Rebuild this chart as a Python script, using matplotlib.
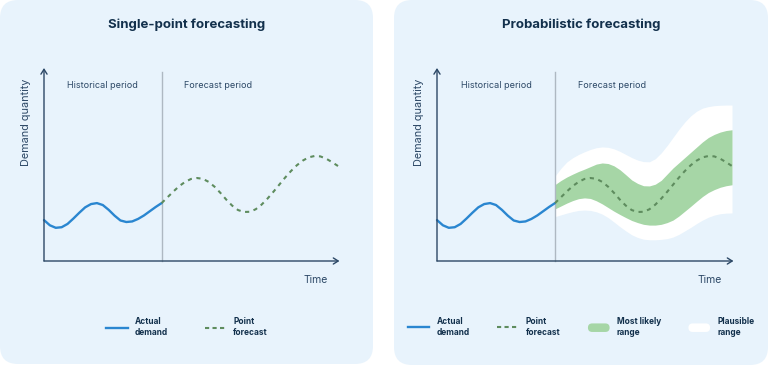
import numpy as np
import matplotlib.pyplot as plt
from matplotlib.patches import FancyBboxPatch, Patch
from matplotlib.lines import Line2D
from matplotlib.legend_handler import HandlerPatch

plt.rcParams['font.family'] = ['Inter', 'DejaVu Sans']

# Time grid (arbitrary units, forecast origin at t=40)
t_hist = [0, 2, 4, 6, 8, 10, 12, 14, 16, 18, 20, 22, 24, 26, 28, 30, 32, 34, 36, 38, 40]
actual = [21.2, 18.5, 17.2, 17.5, 19.2, 22.0, 25.0, 27.8, 29.5, 30.0, 29.0, 26.5, 23.5,
          21.0, 20.2, 20.5, 21.8, 23.6, 25.8, 28.0, 30.0]

t_fc = [40, 42, 44, 46, 48, 50, 52, 54, 56, 58, 60, 62, 64, 66, 68, 70, 72, 74, 76, 78,
        80, 82, 84, 86, 88, 90, 92, 94, 96, 98, 100]
forecast = [30.0, 33.0, 36.0, 38.8, 41.0, 42.5, 43.0, 42.6, 41.0, 38.5, 35.3, 31.8, 28.7,
            26.4, 25.4, 25.5, 26.8, 29.2, 32.3, 35.8, 39.5, 43.2, 46.6, 49.6, 52.0, 53.7,
            54.4, 54.2, 53.0, 51.2, 49.2]
likely_hi = [39.6, 41.7, 43.5, 45.0, 46.4, 47.6, 48.9, 50.2, 50.8, 50.5, 49.3, 47.3, 44.7,
             42.0, 40.2, 39.0, 38.9, 39.8, 41.8, 45.0, 48.2, 50.9, 53.6, 56.3, 59.0, 61.7,
             64.0, 65.6, 66.8, 67.6, 68.0]
likely_lo = [27.0, 28.5, 30.0, 31.3, 32.3, 32.7, 32.4, 31.2, 29.6, 27.7, 25.8, 24.1, 22.5,
             21.0, 19.9, 19.0, 18.6, 18.6, 19.0, 19.9, 21.2, 23.3, 25.8, 28.3, 30.9, 33.4,
             35.5, 37.0, 38.2, 39.0, 39.5]
plaus_hi = [44.0, 48.0, 51.3, 53.5, 55.2, 56.6, 57.8, 58.7, 59.1, 58.9, 58.1, 56.8, 55.2,
            53.6, 52.3, 51.5, 51.4, 53.0, 56.0, 59.8, 64.0, 68.2, 72.0, 75.2, 77.6, 79.2,
            80.0, 80.5, 80.7, 80.8, 80.8]
plaus_lo = [23.0, 23.9, 24.8, 25.6, 26.2, 26.4, 26.2, 25.5, 24.3, 22.5, 20.2, 17.8, 15.6,
            13.6, 12.2, 11.3, 11.0, 11.0, 11.2, 11.6, 12.4, 13.8, 15.6, 17.4, 19.4, 21.2,
            22.7, 23.8, 24.5, 24.8, 24.9]

titles = ['Single-point forecasting', 'Probabilistic forecasting']

PANEL = '#e8f3fc'
NAVY = '#12304c'
AXIS = '#2c4866'
BLUE = '#2a86d0'
GREEN_DASH = '#5e8c5e'
GREEN_BAND = '#a6d6a6'
DIVIDER = '#aeb8c2'

W, H = 768, 365
fig = plt.figure(figsize=(W / 100, H / 100), dpi=100)

# background in pixel coordinates for the two rounded cards
bg = fig.add_axes([0, 0, 1, 1])
bg.set_xlim(0, W)
bg.set_ylim(H, 0)
bg.axis('off')
bg.add_patch(FancyBboxPatch((0, 0), 373, 364, boxstyle='round,pad=0,rounding_size=18',
                            fc=PANEL, ec='none'))
bg.add_patch(FancyBboxPatch((394, 0), 374, 365, boxstyle='round,pad=0,rounding_size=18',
                            fc=PANEL, ec='none'))
bg.text(187, 25, titles[0], ha='center', va='center', fontsize=9.5, fontweight='bold', color=NAVY)
bg.text(581, 25, titles[1], ha='center', va='center', fontsize=9.5, fontweight='bold', color=NAVY)


def rounded_key(legend, orig_handle, xdescent, ydescent, width, height, fontsize):
    return FancyBboxPatch((-xdescent, -ydescent), width, height,
                          boxstyle='round,pad=0,rounding_size=%f' % (height / 2))


def make_axes(left_px, width_px, probabilistic):
    ax = fig.add_axes([left_px / W, (H - 261) / H, width_px / W, 193 / H])
    ax.set_xlim(0, 100)
    ax.set_ylim(0, 100)
    ax.axis('off')
    ax.patch.set_alpha(0)

    # axes with arrow heads
    arrow = dict(arrowstyle='->,head_length=0.35,head_width=0.22', color=AXIS, lw=1.0,
                 shrinkA=0, shrinkB=0)
    ax.annotate('', xy=(0, 100), xytext=(0, 0), arrowprops=arrow, annotation_clip=False)
    ax.annotate('', xy=(100.5, 0), xytext=(0, 0), arrowprops=arrow, annotation_clip=False)
    ax.plot([40, 40], [0, 98], color=DIVIDER, lw=1.0, clip_on=False)

    if probabilistic:
        ax.fill_between(t_fc, plaus_lo, plaus_hi, color='white', lw=0)
        ax.fill_between(t_fc, likely_lo, likely_hi, color=GREEN_BAND, lw=0)

    ax.plot(t_hist, actual, color=BLUE, lw=1.7, solid_capstyle='round', clip_on=False)
    ax.plot(t_fc, forecast, color=GREEN_DASH, lw=1.5, dashes=(2, 2.2), clip_on=False)

    ax.text(20, 91, 'Historical period', ha='center', va='center', fontsize=6.5, color=AXIS)
    ax.text(59.2, 91, 'Forecast period', ha='center', va='center', fontsize=6.5, color=AXIS)
    ax.text(-6, 72, 'Demand quantity', ha='center', va='center', rotation=90,
            fontsize=7.8, color=AXIS)
    ax.text(92.5, -10, 'Time', ha='center', va='center', fontsize=7.5, color=AXIS)
    return ax


ax1 = make_axes(44, 294, False)
ax2 = make_axes(437, 295, True)

h_actual = Line2D([], [], color=BLUE, lw=1.7)
h_point = Line2D([], [], color=GREEN_DASH, lw=1.5, dashes=(2, 1.6))
h_likely = Patch(fc=GREEN_BAND, ec='none')
h_plaus = Patch(fc='white', ec='none')

leg_kw = dict(frameon=False, handlelength=2.6, handletextpad=0.85,
              labelcolor=NAVY, loc='center', prop=dict(weight='bold', size=6))

fig.legend([h_actual, h_point], ['Actual\ndemand', 'Point\nforecast'], ncol=2,
           columnspacing=4.4, bbox_to_anchor=(187 / W, 1 - 327 / H), **leg_kw)
fig.legend([h_actual, h_point, h_likely, h_plaus],
           ['Actual\ndemand', 'Point\nforecast', 'Most likely\nrange', 'Plausible\nrange'],
           ncol=4, columnspacing=3.3, handleheight=1.2,
           bbox_to_anchor=(581 / W, 1 - 327 / H),
           handler_map={Patch: HandlerPatch(patch_func=rounded_key)}, **leg_kw)

fig.savefig('out.png', dpi=100)
